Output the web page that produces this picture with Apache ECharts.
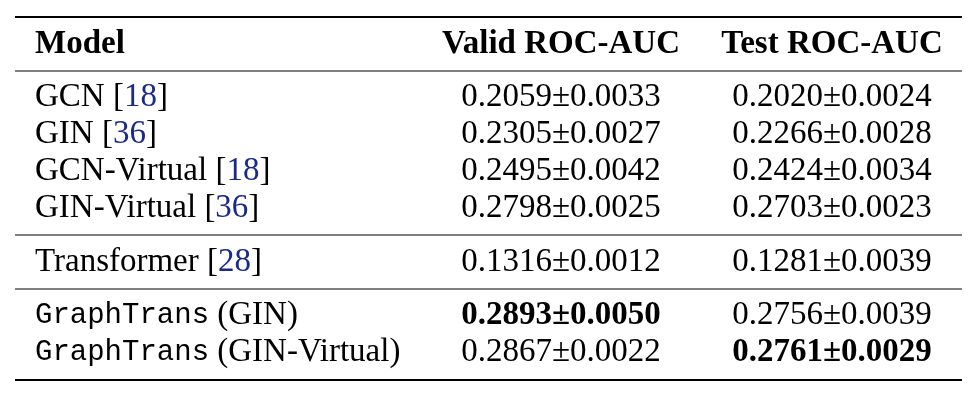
<!DOCTYPE html>
<html><head><meta charset="utf-8">
<script src="https://cdn.jsdelivr.net/npm/echarts@6/dist/echarts.min.js"></script>
<style>html,body{margin:0;padding:0;background:#fff}#c{width:980px;height:401px}</style>
</head><body><div id="c"></div>
<script>
var headers = ["Model", "Valid ROC-AUC", "Test ROC-AUC"];
var models = ["GCN", "GIN", "GCN-Virtual", "GIN-Virtual", "Transformer", "GraphTrans", "GraphTrans"];
var modelSuffix = ["", "", "", "", "", "(GIN)", "(GIN-Virtual)"];
var monoModel = [false, false, false, false, false, true, true];
var cites = ["18", "36", "18", "36", "28", "", ""];
var validVals = ["0.2059±0.0033", "0.2305±0.0027", "0.2495±0.0042", "0.2798±0.0025", "0.1316±0.0012", "0.2893±0.0050", "0.2867±0.0022"];
var testVals = ["0.2020±0.0024", "0.2266±0.0028", "0.2424±0.0034", "0.2703±0.0023", "0.1281±0.0039", "0.2756±0.0039", "0.2761±0.0029"];
var validBold = [false, false, false, false, false, true, false];
var testBold = [false, false, false, false, false, false, true];

var rowY = [97, 134, 171, 208, 262, 315, 352];
var ruleY = [[17, 2], [71, 1.2], [235, 1.2], [289, 1.2], [380, 2]];
var colX = [35, 561, 832];
var serif = "'Liberation Serif', 'DejaVu Serif', serif";
var mono = "'Liberation Mono', 'DejaVu Sans Mono', monospace";
var fs = 33;

var g = [];
ruleY.forEach(function (r) {
  g.push({type: 'line', shape: {x1: 15, y1: r[0], x2: 962, y2: r[0]}, style: {stroke: '#000', lineWidth: r[1]}});
});
headers.forEach(function (h, i) {
  g.push({type: 'text', x: colX[i], y: 44, style: {text: h, font: 'bold ' + fs + 'px ' + serif, fill: '#000',
    textAlign: i === 0 ? 'left' : 'center', textVerticalAlign: 'middle'}});
});
var rich = {
  s: {fontFamily: serif, fontSize: fs, fill: '#000'},
  m: {fontFamily: mono, fontSize: 29, fill: '#000'},
  c: {fontFamily: serif, fontSize: fs, fill: '#1a2a8a'}
};
models.forEach(function (m, i) {
  var t;
  if (monoModel[i]) t = '{m|' + m + '}{s| ' + modelSuffix[i] + '}';
  else t = '{s|' + m + ' [}{c|' + cites[i] + '}{s|]}';
  g.push({type: 'text', x: colX[0], y: rowY[i], style: {text: t, rich: rich, textAlign: 'left', textVerticalAlign: 'middle'}});
  g.push({type: 'text', x: colX[1], y: rowY[i], style: {text: validVals[i], font: (validBold[i] ? 'bold ' : '') + fs + 'px ' + serif, fill: '#000', textAlign: 'center', textVerticalAlign: 'middle'}});
  g.push({type: 'text', x: colX[2], y: rowY[i], style: {text: testVals[i], font: (testBold[i] ? 'bold ' : '') + fs + 'px ' + serif, fill: '#000', textAlign: 'center', textVerticalAlign: 'middle'}});
});
var chart = echarts.init(document.getElementById('c'));
chart.setOption({backgroundColor: '#fff', graphic: g});
</script></body></html>
